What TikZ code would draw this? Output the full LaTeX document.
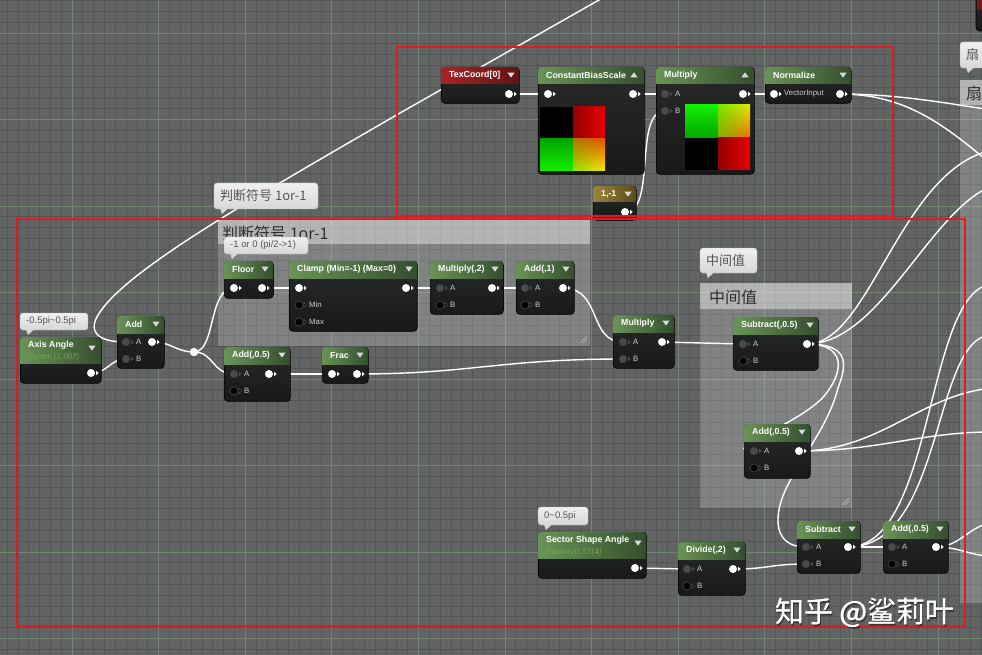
\documentclass[tikz,border=0pt]{standalone}
\usepackage{fontspec}
\setmainfont{Liberation Sans}
\newfontfamily\cjk{Noto Sans CJK SC}
\usetikzlibrary{calc,shadings}
\definecolor{bg}{RGB}{98,100,100}
\definecolor{gminor}{RGB}{82,85,85}
\definecolor{gmajor}{RGB}{118,132,116}
\definecolor{nbT}{RGB}{40,42,42}
\definecolor{nbB}{RGB}{24,26,26}
\definecolor{hgL}{RGB}{105,148,86}
\definecolor{hgR}{RGB}{52,78,47}
\definecolor{hrL}{RGB}{170,36,36}
\definecolor{hrR}{RGB}{95,20,20}
\definecolor{hyL}{RGB}{155,132,58}
\definecolor{hyR}{RGB}{90,74,27}
\definecolor{pinc}{RGB}{72,75,75}
\definecolor{plab}{RGB}{205,205,205}
\definecolor{paramg}{RGB}{115,165,85}
\definecolor{redbox}{RGB}{225,28,32}
\definecolor{bubT}{RGB}{240,240,240}
\definecolor{bubB}{RGB}{215,215,215}
\definecolor{bubD}{RGB}{190,190,190}
\definecolor{btext}{RGB}{85,85,85}
\definecolor{ctitle}{RGB}{45,45,45}
\definecolor{tric}{RGB}{215,218,215}
\definecolor{pnode}{RGB}{120,25,25}
% preview colours
\definecolor{rD}{RGB}{150,0,0}
\definecolor{rL}{RGB}{230,0,0}
\definecolor{gD}{RGB}{0,165,0}
\definecolor{gL}{RGB}{20,240,0}
\definecolor{yUL}{RGB}{175,120,0}
\definecolor{yUR}{RGB}{235,80,0}
\definecolor{yLL}{RGB}{150,225,0}
\definecolor{yLR}{RGB}{245,235,0}
\definecolor{mUL}{RGB}{110,230,0}
\definecolor{mUR}{RGB}{235,230,0}
\definecolor{mLL}{RGB}{140,170,0}
\definecolor{mLR}{RGB}{235,110,0}
\tikzset{
  nbody/.style={draw=black, line width=0.6pt, rounded corners=3.5pt, top color=nbT, bottom color=nbB, inner sep=0pt},
  hgreen/.style={left color=hgL, right color=hgR},
  hred/.style={left color=hrL, right color=hrR},
  hgold/.style={left color=hyL, right color=hyR},
  htext/.style={text=white, font=\fontsize{8.8}{10}\selectfont\bfseries, inner sep=0pt},
  ptext/.style={text=paramg, font=\fontsize{8}{9}\selectfont\itshape, inner sep=0pt},
  plabel/.style={text=plab, font=\fontsize{7.8}{9}\selectfont, inner sep=0pt},
  pincon/.style={fill=pinc},
  pinun/.style={fill=black, draw=pinc, line width=0.6pt},
  pinw/.style={fill=white},
  wire/.style={draw=white, line width=1.4pt},
  tri/.style={fill=tric},
  combody/.style={fill=white, fill opacity=0.2},
  comhead/.style={fill=white, fill opacity=0.4},
  ctext/.style={text=ctitle, font=\cjk\fontsize{16}{18}\selectfont, inner sep=0pt},
  bubble/.style={draw=bubD, line width=0.4pt, rounded corners=3pt, top color=bubT, bottom color=bubB},
  btxt/.style={text=btext, inner sep=0pt},
  redrect/.style={draw=redbox, line width=2.4pt},
  wmark/.style={font=\cjk\fontsize{29}{33}\selectfont, inner sep=0pt, anchor=west},
}
% material node: name, x, y, w, h, header height, header shading, title
\newcommand{\mnode}[8]{%
  \node[nbody, anchor=north west, minimum width=#4pt, minimum height=#5pt] (#1) at (#2,#3) {};
  \begin{scope}
    \clip[rounded corners=3.5pt] (#2,#3) rectangle ++(#4,#5);
    \shade[#7] (#2,#3) rectangle ++(#4,#6);
  \end{scope}
  \node[htext, anchor=west] (#1-t) at (#2+8,#3+8.5) {#8};
}
% pin: name, x, y, label, style
\newcommand{\pin}[5]{%
  \coordinate (#1) at (#2,#3);
  \path[#5] (#1) circle (4);
  \path[#5] ($(#1)+(5,-2.4)$) -- ++(2.6,2.4) -- ++(-2.6,2.4) -- cycle;
  \node[plabel, anchor=west] (#1-l) at (#2+10,#3) {#4};
}
\newcommand{\ddown}[2]{\fill[tri] (#1-3.6,#2-2.4) -- (#1+3.6,#2-2.4) -- (#1,#2+2.6) -- cycle;}
\newcommand{\dup}[2]{\fill[tri] (#1-3.6,#2+2.4) -- (#1+3.6,#2+2.4) -- (#1,#2-2.6) -- cycle;}
% bubble: name, x1, y1, x2, y2, text
\newcommand{\bub}[6]{%
  \path[bubble] (#2,#3) rectangle (#4,#5);
  \fill[bubB] (#2+6,#5-0.5) -- (#2+14,#5-0.5) -- (#2+8,#5+5) -- cycle;
  \node[btxt, anchor=west] (#1) at (#2+6,{(#3+#5)/2}) {#6};
}
\begin{document}
\begin{tikzpicture}[x=1pt,y=-1pt]
\useasboundingbox (0,0) rectangle (982,655);
\clip (0,0) rectangle (982,655);
% background and grid
\fill[bg] (0,0) rectangle (982,655);
\foreach \k in {-7,...,84} \draw[gminor, line width=0.7pt] ({72+\k*10.825},0) -- ++(0,655);
\foreach \k in {-4,...,58} \draw[gminor, line width=0.7pt] (0,{33+\k*10.81}) -- ++(982,0);
\foreach \k in {-1,...,10} \draw[gmajor, line width=0.7pt] ({72+\k*86.6},0) -- ++(0,655);
\foreach \k in {0,...,7} \draw[gmajor, line width=0.7pt] (0,{33+\k*86.5}) -- ++(982,0);

% comment boxes
\fill[combody] (218,220) rectangle (590,346);
\fill[comhead] (218,220) rectangle (590,244);
\node[ctext, anchor=west] (c1t) at (222,233) {判断符号 1or-1};
\draw[white!75!black, line width=0.6pt] (580,343) -- (587,336) (583,343) -- (587,339);
\fill[combody] (700,283) rectangle (852,508);
\fill[comhead] (700,283) rectangle (852,309);
\node[ctext, anchor=west] (c2t) at (709,297) {中间值};
\draw[white!75!black, line width=0.6pt] (842,505) -- (849,498) (845,505) -- (849,501);
\fill[combody] (960,80) rectangle (990,603);
\fill[comhead] (960,80) rectangle (990,105);
\node[ctext, anchor=west] (c3t) at (966,93) {扇};

% pin coordinates (named) used by wires
\coordinate (tex-o) at (509,94);
\coordinate (cbs-i) at (548,94);
\coordinate (cbs-o) at (633,94);
\coordinate (mul1-a) at (665,94);
\coordinate (mul1-b) at (665,111);
\coordinate (mul1-o) at (743,94);
\coordinate (norm-i) at (774,94);
\coordinate (norm-o) at (840,94);
\coordinate (const-o) at (625,212);
\coordinate (ax-o) at (91,373);
\coordinate (add1-a) at (126,342);
\coordinate (add1-b) at (126,359);
\coordinate (add1-o) at (152,342);
\coordinate (rr) at (194,352);
\coordinate (floor-i) at (234,288);
\coordinate (floor-o) at (262,288);
\coordinate (clamp-i) at (299,288);
\coordinate (clamp-o) at (406,288);
\coordinate (mul2-a) at (440,288);
\coordinate (mul2-o) at (492,288);
\coordinate (add2-a) at (525,288);
\coordinate (add2-o) at (563,288);
\coordinate (add3-a) at (234,374);
\coordinate (add3-o) at (269,374);
\coordinate (frac-i) at (332,374);
\coordinate (frac-o) at (357,374);
\coordinate (mul3-a) at (623,342);
\coordinate (mul3-b) at (623,359);
\coordinate (mul3-o) at (662,342);
\coordinate (sub1-a) at (743,344);
\coordinate (sub1-o) at (807,344);
\coordinate (add4-a) at (754,451);
\coordinate (add4-o) at (799,451);
\coordinate (sec-o) at (635,568);
\coordinate (div-a) at (687,569);
\coordinate (div-o) at (733,569);
\coordinate (sub2-a) at (806,547);
\coordinate (sub2-b) at (806,564);
\coordinate (sub2-o) at (848,547);
\coordinate (add5-a) at (892,547);
\coordinate (add5-o) at (936,547);
% free ends off the picture
\coordinate (eT) at (606,-4);
\coordinate (eR1) at (992,110);
\coordinate (eR2) at (992,165);
\coordinate (eR3) at (992,150);
\coordinate (eR4) at (992,186);
\coordinate (eR5) at (992,284);
\coordinate (eR6) at (992,335);
\coordinate (eR7) at (992,388);
\coordinate (eR8) at (992,432);
\coordinate (eR9) at (992,523);
\coordinate (eR10) at (992,556);

% wires
\draw[wire] (tex-o) -- (cbs-i);
\draw[wire] (cbs-o) -- (mul1-a);
\draw[wire] (const-o) .. controls (657,212) and (633,111) .. (mul1-b);
\draw[wire] (mul1-o) -- (norm-i);
\draw[wire] (norm-o) .. controls (900,94) and (950,104) .. (eR1);
\draw[wire] (norm-o) .. controls (905,94) and (945,125) .. (eR2);
\draw[wire] (add1-a) .. controls (98,342) and (86,332) .. (100,312) .. controls (130,268) and (250,200) .. (400,113) -- (eT);
\draw[wire] (ax-o) .. controls (108,373) and (110,359) .. (add1-b);
\draw[wire] (add1-o) .. controls (172,342) and (176,352) .. (rr);
\draw[wire] (rr) .. controls (216,352) and (208,288) .. (floor-i);
\draw[wire] (rr) .. controls (214,352) and (212,374) .. (add3-a);
\draw[wire] (floor-o) -- (clamp-i);
\draw[wire] (clamp-o) -- (mul2-a);
\draw[wire] (mul2-o) -- (add2-a);
\draw[wire] (add2-o) .. controls (602,288) and (588,342) .. (mul3-a);
\draw[wire] (add3-o) -- (frac-i);
\draw[wire] (frac-o) .. controls (470,374) and (500,359) .. (mul3-b);
\draw[wire] (mul3-o) -- (sub1-a);
\draw[wire] (sub1-o) .. controls (845,344) and (845,370) .. (825,395) .. controls (800,425) and (715,451) .. (add4-a);
\draw[wire] (sub1-o) .. controls (848,344) and (848,362) .. (838,388) .. controls (825,440) and (778,480) .. (778,520) .. controls (778,540) and (790,547) .. (sub2-a);
\draw[wire] (sub1-o) .. controls (870,344) and (900,170) .. (eR3);
\draw[wire] (sub1-o) .. controls (880,344) and (930,210) .. (eR4);
\draw[wire] (add4-o) .. controls (880,451) and (920,395) .. (eR7);
\draw[wire] (add4-o) .. controls (880,451) and (920,432) .. (eR8);
\draw[wire] (sec-o) -- (div-a);
\draw[wire] (div-o) .. controls (770,569) and (770,564) .. (sub2-b);
\draw[wire] (sub2-o) -- (add5-a);
\draw[wire] (sub2-o) .. controls (935,547) and (925,290) .. (eR5);
\draw[wire] (sub2-o) .. controls (945,547) and (932,335) .. (eR6);
\draw[wire] (add5-o) .. controls (960,547) and (970,525) .. (eR9);
\draw[wire] (add5-o) .. controls (960,547) and (970,556) .. (eR10);

% ---- nodes ----
% TexCoord
\mnode{tex}{441}{67}{78}{36}{17}{hred}{TexCoord[0]}
\ddown{511}{75}
\pin{tex-op}{509}{94}{}{pinw}
% ConstantBiasScale
\mnode{cbs}{538}{67}{106}{107}{17}{hgreen}{ConstantBiasScale}
\dup{634}{75}
\pin{cbs-ip}{548}{94}{}{pinw}
\pin{cbs-op}{633}{94}{}{pinw}
\fill[black] (540,107) rectangle (573,139);
\shade[left color=rD, right color=rL] (573,107) rectangle (605,139);
\shade[top color=gD, bottom color=gL] (540,139) rectangle (573,171);
\shade[upper left=yUL, upper right=yUR, lower left=yLL, lower right=yLR] (573,139) rectangle (605,171);
% Multiply (top)
\mnode{mul1}{656}{67}{98}{107}{17}{hgreen}{Multiply}
\dup{745}{75}
\pin{mul1-ap}{665}{94}{A}{pincon}
\pin{mul1-bp}{665}{111}{B}{pincon}
\pin{mul1-op}{743}{94}{}{pinw}
\shade[top color=gL, bottom color=gD] (685,105) rectangle (718,138);
\shade[upper left=mUL, upper right=mUR, lower left=mLL, lower right=mLR] (718,105) rectangle (750,138);
\fill[black] (685,138) rectangle (718,170);
\shade[left color=rD, right color=rL] (718,138) rectangle (750,170);
% Normalize
\mnode{norm}{765}{67}{86}{36}{17}{hgreen}{Normalize}
\ddown{843}{75}
\pin{norm-ip}{774}{94}{VectorInput}{pinw}
\pin{norm-op}{840}{94}{}{pinw}
% constant 1,-1
\mnode{const}{593}{186}{43}{34}{16}{hgold}{1,-1}
\ddown{628}{194}
\pin{const-op}{625}{212}{}{pinw}
% Axis Angle
\mnode{ax}{20}{337}{81}{46}{26}{hgreen}{Axis Angle}
\node[ptext, anchor=west] (ax-p) at (28,357) {Param (1.007)};
\ddown{92}{348}
\pin{ax-op}{91}{373}{}{pinw}
% Add
\mnode{add1}{117}{316}{47}{52}{17}{hgreen}{Add}
\ddown{156}{324}
\pin{add1-ap}{126}{342}{A}{pincon}
\pin{add1-bp}{126}{359}{B}{pincon}
\pin{add1-op}{152}{342}{}{pinw}
% reroute
\fill[white] (rr) circle (4.2);
% Floor
\mnode{floor}{224}{261}{49}{37}{17}{hgreen}{Floor}
\ddown{265}{269}
\pin{floor-ip}{234}{288}{}{pinw}
\pin{floor-op}{262}{288}{}{pinw}
% Clamp
\mnode{clamp}{289}{261}{128}{70}{17}{hgreen}{Clamp (Min=-1) (Max=0)}
\ddown{409}{269}
\pin{clamp-ip}{299}{288}{}{pinw}
\pin{clamp-min}{299}{305}{Min}{pinun}
\pin{clamp-max}{299}{322}{Max}{pinun}
\pin{clamp-op}{406}{288}{}{pinw}
% Multiply(,2)
\mnode{mul2}{430}{261}{73}{53}{17}{hgreen}{Multiply(,2)}
\ddown{495}{269}
\pin{mul2-ap}{440}{288}{A}{pincon}
\pin{mul2-bp}{440}{305}{B}{pinun}
\pin{mul2-op}{492}{288}{}{pinw}
% Add(,1)
\mnode{add2}{516}{261}{58}{53}{17}{hgreen}{Add(,1)}
\ddown{566}{269}
\pin{add2-ap}{525}{288}{A}{pincon}
\pin{add2-bp}{525}{305}{B}{pinun}
\pin{add2-op}{563}{288}{}{pinw}
% Add(,0.5) left
\mnode{add3}{224}{347}{66}{54}{17}{hgreen}{Add(,0.5)}
\ddown{282}{355}
\pin{add3-ap}{234}{374}{A}{pincon}
\pin{add3-bp}{234}{391}{B}{pinun}
\pin{add3-op}{269}{374}{}{pinw}
% Frac
\mnode{frac}{322}{347}{46}{36}{17}{hgreen}{Frac}
\ddown{360}{355}
\pin{frac-ip}{332}{374}{}{pinw}
\pin{frac-op}{357}{374}{}{pinw}
% Multiply (middle)
\mnode{mul3}{613}{315}{61}{53}{17}{hgreen}{Multiply}
\ddown{666}{323}
\pin{mul3-ap}{623}{342}{A}{pincon}
\pin{mul3-bp}{623}{359}{B}{pincon}
\pin{mul3-op}{662}{342}{}{pinw}
% Subtract(,0.5)
\mnode{sub1}{733}{317}{85}{53}{17}{hgreen}{Subtract(,0.5)}
\ddown{810}{325}
\pin{sub1-ap}{743}{344}{A}{pincon}
\pin{sub1-bp}{743}{361}{B}{pinun}
\pin{sub1-op}{807}{344}{}{pinw}
% Add(,0.5) middle
\mnode{add4}{744}{424}{66}{54}{17}{hgreen}{Add(,0.5)}
\ddown{802}{432}
\pin{add4-ap}{754}{451}{A}{pincon}
\pin{add4-bp}{754}{468}{B}{pinun}
\pin{add4-op}{799}{451}{}{pinw}
% Sector Shape Angle
\mnode{sec}{538}{532}{108}{46}{26}{hgreen}{Sector Shape Angle}
\node[ptext, anchor=west] (sec-p) at (546,552) {Param (0.3714)};
\ddown{638}{543}
\pin{sec-op}{635}{568}{}{pinw}
% Divide(,2)
\mnode{div}{678}{542}{67}{53}{17}{hgreen}{Divide(,2)}
\ddown{737}{550}
\pin{div-ap}{687}{569}{A}{pincon}
\pin{div-bp}{687}{586}{B}{pinun}
\pin{div-op}{733}{569}{}{pinw}
% Subtract
\mnode{sub2}{797}{521}{63}{52}{17}{hgreen}{Subtract}
\ddown{852}{529}
\pin{sub2-ap}{806}{547}{A}{pincon}
\pin{sub2-bp}{806}{564}{B}{pincon}
\pin{sub2-op}{848}{547}{}{pinw}
% Add(,0.5) right
\mnode{add5}{883}{521}{65}{52}{17}{hgreen}{Add(,0.5)}
\ddown{940}{529}
\pin{add5-ap}{892}{547}{A}{pincon}
\pin{add5-bp}{892}{564}{B}{pinun}
\pin{add5-op}{936}{547}{}{pinw}
% partial node at top right
\path[nbody] (976,-6) rectangle (996,31);
\fill[pnode] (977,-5) rectangle (996,10);

% bubbles
\bub{b1}{214}{183}{318}{209}{\cjk\fontsize{13}{15}\selectfont 判断符号 1or-1}
\bub{b2}{224}{237}{308}{254}{\fontsize{9.5}{10}\selectfont -1 or 0 (pi/2->1)}
\bub{b3}{20}{313}{88}{330}{\fontsize{9.5}{10}\selectfont -0.5pi\textasciitilde 0.5pi}
\bub{b4}{700}{248}{757}{273}{\cjk\fontsize{13}{15}\selectfont 中间值}
\bub{b5}{538}{507}{588}{525}{\fontsize{9.5}{10}\selectfont 0\textasciitilde 0.5pi}
\bub{b6}{960}{42}{1000}{68}{\cjk\fontsize{13}{15}\selectfont 扇}

% red annotation rectangles
\draw[redrect] (397,47) rectangle (893,216);
\draw[redrect] (17,219) rectangle (965,626);

% watermark
\node[wmark, text=black, opacity=0.45] (wm-s) at (776.5,614.5) {知乎 @鲨莉叶};
\node[wmark, text=white] (wm-b) at (775.6,613) {知乎 @鲨莉叶};
\node[wmark, text=white] (wm) at (775,613) {知乎 @鲨莉叶};
\end{tikzpicture}
\end{document}
